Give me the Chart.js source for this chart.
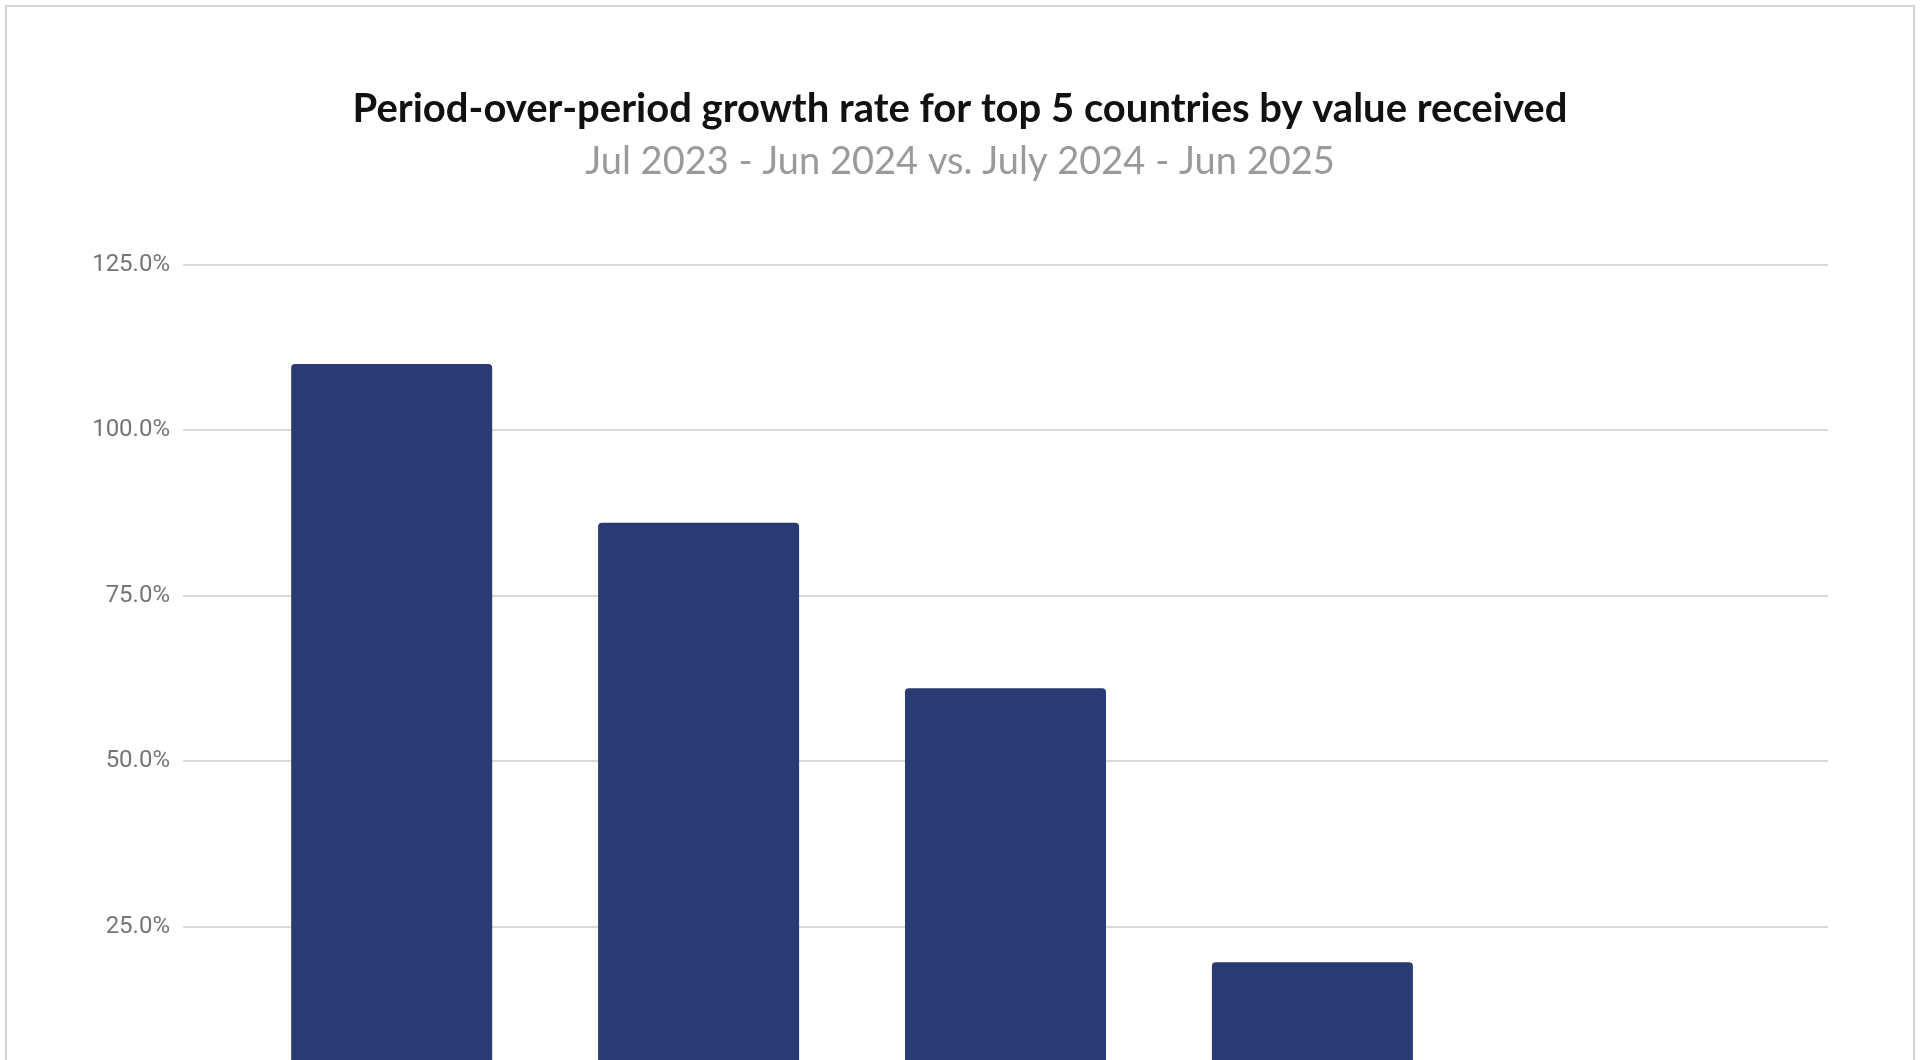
<!DOCTYPE html>
<html>
<head>
<meta charset="utf-8">
<script src="https://cdn.jsdelivr.net/npm/chart.js@4.4.1/dist/chart.umd.min.js"></script>
<style>
    html, body { margin: 0; padding: 0; background: #fff; overflow: hidden; }
    #frame {
        position: absolute; left: 5px; top: 5px; width: 1910px; height: 1200px;
        border: 2px solid #d4d4d4; box-sizing: border-box; background: #fff;
    }
    #chartWrap { position: absolute; left: 0; top: 0; width: 1906px; height: 1125px; }
</style>
</head>
<body>
<div id="frame"><div id="chartWrap"><canvas id="growthChart"></canvas></div></div>
<script>
// countries are below the visible edge of the reference, names unknown
const countries = ['Country 1', 'Country 2', 'Country 3', 'Country 4', 'Country 5'];
const growthRate = [110, 86, 61, 19.6, 3];
const yTicks = [0, 25, 50, 75, 100, 125];

const titleText = 'Period-over-period growth rate for top 5 countries by value received';
const subtitleText = 'Jul 2023 - Jun 2024 vs. July 2024 - Jun 2025';

const barData = growthRate.map((v, i) => ({ x: i, y: v }));

const ctx = document.getElementById('growthChart').getContext('2d');
new Chart(ctx, {
    type: 'bar',
    data: {
        datasets: [{
            label: 'Growth rate',
            data: barData,
            backgroundColor: '#2a3a72',
            borderRadius: 4,
            borderSkipped: 'start',
            categoryPercentage: 0.655,
            barPercentage: 1.0,
        }],
    },
    options: {
        responsive: true,
        maintainAspectRatio: false,
        animation: false,
        layout: { padding: { left: 85, right: 85, top: 0, bottom: 0 } },
        plugins: {
            legend: { display: false },
            tooltip: { enabled: false },
            title: {
                display: true,
                text: titleText,
                color: '#111',
                font: { family: 'Lato', size: 40, weight: 'bold', lineHeight: 1.2 },
                padding: { top: 78, bottom: 6 },
            },
            subtitle: {
                display: true,
                text: subtitleText,
                color: '#9a9a9a',
                font: { family: 'Lato', size: 38, weight: 'normal', lineHeight: 1.2 },
                padding: { top: 0, bottom: 80 },
            },
        },
        scales: {
            x: {
                type: 'linear',
                offset: false,
                min: -0.68,
                max: 4.68,
                grid: { display: false },
                border: { display: false },
                afterFit: function (scale) { scale.height = 40; },
                afterBuildTicks: function (scale) {
                    scale.ticks = countries.map((c, i) => ({ value: i }));
                },
                ticks: {
                    color: '#757575',
                    font: { family: 'Roboto', size: 24 },
                    callback: function (value) {
                        return countries[value];
                    },
                },
            },
            y: {
                min: yTicks[0],
                max: yTicks[yTicks.length - 1],
                afterFit: function (scale) { scale.width = 91; },
                afterBuildTicks: function (scale) {
                    scale.ticks = yTicks.map(v => ({ value: v }));
                },
                grid: { color: '#d9d9d9', lineWidth: 2, drawTicks: false },
                border: { display: false },
                ticks: {
                    color: '#757575',
                    padding: 13,
                    font: { family: 'Roboto', size: 24 },
                    callback: function (value) {
                        return value.toFixed(1) + '%';
                    },
                },
            },
        },
    },
});
</script>
</body>
</html>
